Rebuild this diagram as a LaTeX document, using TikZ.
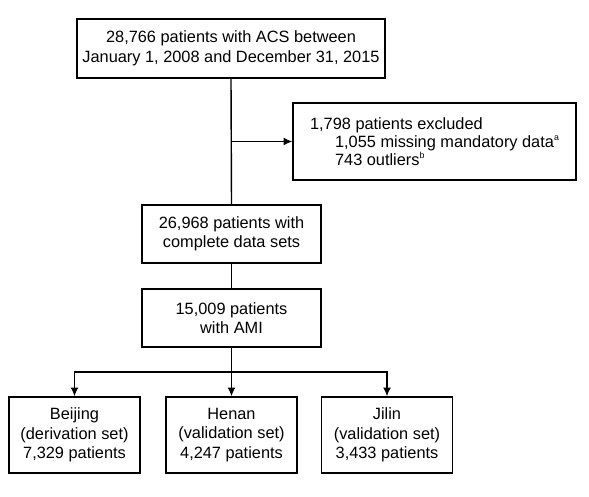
\documentclass[tikz,border=0pt]{standalone}
\usepackage{fontspec}
\setmainfont{Liberation Sans}
\usetikzlibrary{arrows.meta}
\newcommand{\noteref}[1]{\raisebox{0.8ex}{\fontsize{5}{5}\selectfont #1}}

\begin{document}
\begin{tikzpicture}[x=0.02cm,y=-0.02cm,
  flowbox/.style={draw,line width=0.8pt,align=center,inner sep=0pt,font=\fontsize{9.3}{11}\selectfont},
  flowline/.style={line width=0.8pt},
  flowarrow/.style={line width=0.8pt,-{Latex[length=5pt,width=4.5pt]}}]
\useasboundingbox (0,0) rectangle (589,497);
\node[flowbox,minimum width=6.16cm,minimum height=1.18cm,font=\fontsize{9.3}{11.4}\selectfont] (total) at (231,48.5) {28,766 patients with ACS between\\January 1, 2008 and December 31, 2015};
\node[flowbox,minimum width=5.66cm,minimum height=1.54cm,align=left,font=\fontsize{9.3}{10.4}\selectfont] (excluded) at (434.5,141.5) {1,798 patients excluded\\\hspace*{0.5cm}1,055 missing mandatory data\noteref{a}\\\hspace*{0.5cm}743 outliers\noteref{b}};
\node[flowbox,minimum width=3.58cm,minimum height=1.16cm] (complete) at (231.5,234) {26,968 patients with\\complete data sets};
\node[flowbox,minimum width=3.58cm,minimum height=1.16cm] (ami) at (231.5,318) {15,009 patients\\with AMI};
\node[flowbox,minimum width=2.62cm,minimum height=1.52cm] (beijing) at (74.5,435) {Beijing\\(derivation set)\\7,329 patients};
\node[flowbox,minimum width=2.62cm,minimum height=1.52cm] (henan) at (231.5,435) {Henan\\(validation set)\\4,247 patients};
\node[flowbox,minimum width=2.62cm,minimum height=1.52cm] (jilin) at (387,435) {Jilin\\(validation set)\\3,433 patients};

\coordinate (branch) at (total.south |- excluded.west);
\coordinate (split) at (231.5,372);
\draw[flowline] (total.south) -- (complete.north);
\draw[flowarrow] (branch) -- (excluded.west);
\draw[flowline] (complete.south) -- (ami.north);
\draw[flowline] (ami.south) -- (split);
\draw[flowarrow] (split) -| (beijing.north);
\draw[flowarrow] (split) -- (henan.north);
\draw[flowarrow] (split) -| (jilin.north);

\end{tikzpicture}
\end{document}
